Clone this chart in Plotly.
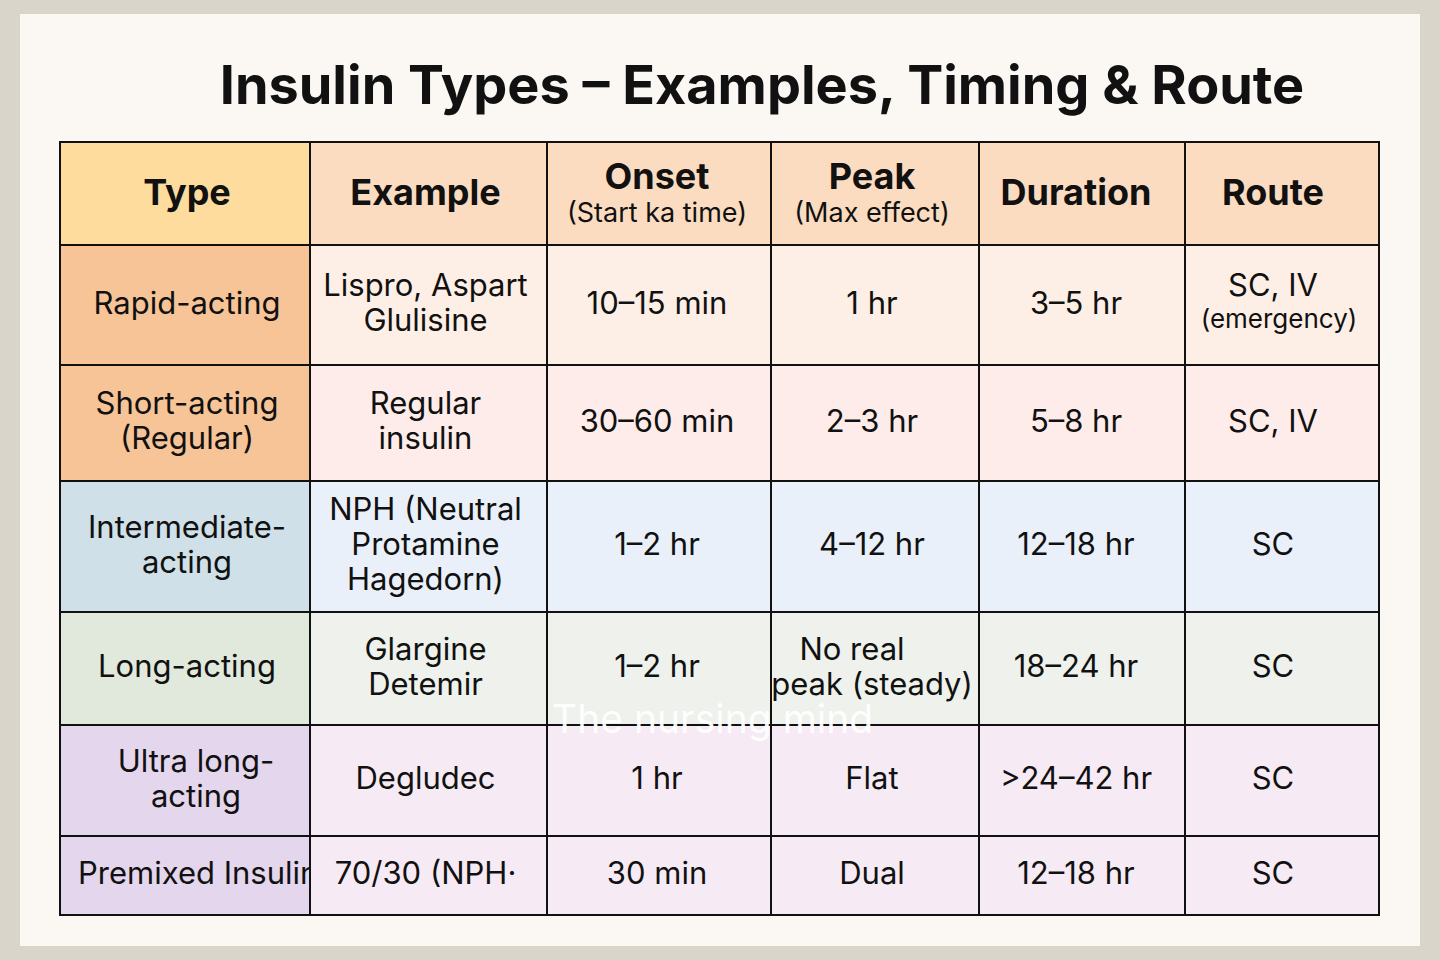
import plotly.graph_objects as go

# ---- table content ----
columns = ["Type", "Example", "Onset", "Peak", "Duration", "Route"]
header_notes = ["", "", "(Start ka time)", "(Max effect)", "", ""]

types = ["Rapid-acting", "Short-acting\n(Regular)", "Intermediate-\nacting",
         "Long-acting", "Ultra long-\nacting", "Premixed Insulin"]
examples = ["Lispro, Aspart\nGlulisine", "Regular\ninsulin",
            "NPH (Neutral\nProtamine\nHagedorn)", "Glargine\nDetemir",
            "Degludec", "70/30 (NPH·"]
onsets = ["10–15 min", "30–60 min", "1–2 hr", "1–2 hr", "1 hr", "30 min"]
peaks = ["1 hr", "2–3 hr", "4–12 hr", "No real\npeak (steady)", "Flat", "Dual"]
durations = ["3–5 hr", "5–8 hr", "12–18 hr", "18–24 hr", ">24–42 hr", "12–18 hr"]
routes = ["SC, IV\n(emergency)", "SC, IV", "SC", "SC", "SC", "SC"]

table_rows = list(zip(types, examples, onsets, peaks, durations, routes))

# ---- layout / style ----
COL_EDGES = [60, 310, 547, 771, 979, 1185, 1379]
ROW_EDGES = [142, 245, 365, 481, 612, 725, 836, 915]
COL_TEXT_SHIFT = [2, -3, -2, -3, -6, -9]
# small hand nudges of single cells / lines, like in the original
CELL_NUDGE = {(5, 0): 9}
LINE_NUDGE = {"No real": -20}
TYPE_FILLS = ["#fddc9d", "#f7c497", "#f7c497", "#cfe0e9", "#e1e9dc", "#e4d6ec", "#e4d6ec"]
BODY_FILLS = ["#fbdcc0", "#fdefe6", "#fdece9", "#e9f0f9", "#eef1ec", "#f6ebf5", "#f6ebf5"]
FONT = "Inter"
INK = "#111111"
LINE_GAP = 35

fig = go.Figure()

# cream panel behind the table
fig.add_shape(type="rect", x0=20, y0=14, x1=1420, y1=946,
              fillcolor="#fbf8f3", line_width=0, layer="below")

# cells
for r in range(len(ROW_EDGES) - 1):
    for c in range(len(COL_EDGES) - 1):
        fig.add_shape(type="rect",
                      x0=COL_EDGES[c], x1=COL_EDGES[c + 1],
                      y0=ROW_EDGES[r], y1=ROW_EDGES[r + 1],
                      fillcolor=TYPE_FILLS[r] if c == 0 else BODY_FILLS[r],
                      line=dict(color=INK, width=2), layer="below")


def split_lines(text, cy, gap=LINE_GAP):
    lines = text.split("\n")
    n = len(lines)
    return [(ln, cy + (i - (n - 1) / 2) * gap) for i, ln in enumerate(lines)]


# header text
head_x, head_y, head_t = [], [], []
note_x, note_y, note_t = [], [], []
for c, (name, note) in enumerate(zip(columns, header_notes)):
    cx = (COL_EDGES[c] + COL_EDGES[c + 1]) / 2 + COL_TEXT_SHIFT[c]
    cy = (ROW_EDGES[0] + ROW_EDGES[1]) / 2
    if note:
        head_x.append(cx); head_y.append(cy - 14); head_t.append(name)
        note_x.append(cx); note_y.append(cy + 22); note_t.append(note)
    else:
        head_x.append(cx); head_y.append(cy + 2); head_t.append(name)

# body text
body_x, body_y, body_t, body_pos = [], [], [], []
small_x, small_y, small_t = [], [], []
for r, row in enumerate(table_rows, start=1):
    cy = (ROW_EDGES[r] + ROW_EDGES[r + 1]) / 2 + 1
    for c, text in enumerate(row):
        cx = (COL_EDGES[c] + COL_EDGES[c + 1]) / 2 + COL_TEXT_SHIFT[c] + CELL_NUDGE.get((r, c), 0)
        for ln, y in split_lines(text, cy):
            if ln.startswith("(emergency"):
                small_x.append(cx + 6); small_y.append(y - 2); small_t.append(ln)
                continue
            if c == 0 and ln == "Premixed Insulin":
                # overflowing label, anchored on the left like the original
                body_x.append(COL_EDGES[0] + 18); body_pos.append("middle right")
            else:
                body_x.append(cx + LINE_NUDGE.get(ln, 0)); body_pos.append("middle center")
            body_y.append(y); body_t.append(ln)

fig.add_trace(go.Scatter(x=head_x, y=head_y, text=head_t, mode="text",
                         textfont=dict(family=FONT, size=36, color=INK, weight="bold")))
fig.add_trace(go.Scatter(x=note_x, y=note_y, text=note_t, mode="text",
                         textfont=dict(family=FONT, size=27, color=INK)))
fig.add_trace(go.Scatter(x=body_x, y=body_y, text=body_t, mode="text",
                         textposition=body_pos,
                         textfont=dict(family=FONT, size=31, color=INK)))
fig.add_trace(go.Scatter(x=small_x, y=small_y, text=small_t, mode="text",
                         textfont=dict(family=FONT, size=26, color=INK)))
fig.update_traces(hoverinfo="skip", showlegend=False, cliponaxis=False)

# clip the overflowing "Premixed Insulin" at the column border
last = len(ROW_EDGES) - 2
fig.add_shape(type="rect", x0=COL_EDGES[1] + 1, x1=COL_EDGES[1] + 20,
              y0=ROW_EDGES[last] + 1, y1=ROW_EDGES[last + 1] - 1,
              fillcolor=BODY_FILLS[last], line_width=0, layer="above")
fig.add_shape(type="line", x0=COL_EDGES[1], x1=COL_EDGES[1],
              y0=ROW_EDGES[last], y1=ROW_EDGES[last + 1],
              line=dict(color=INK, width=2), layer="above")

# watermark
fig.add_annotation(x=712, y=718, text="The nursing mind", showarrow=False,
                   font=dict(family=FONT, size=39, color="white"), opacity=0.95)

fig.update_layout(
    width=1440, height=960,
    margin=dict(l=0, r=0, t=0, b=0),
    paper_bgcolor="#dad5ca", plot_bgcolor="rgba(0,0,0,0)",
    title=dict(text="<b>Insulin Types – Examples, Timing & Route</b>",
               font=dict(family=FONT, size=54, color=INK),
               x=762 / 1440, xanchor="center",
               y=1 - 85 / 960, yanchor="middle", yref="container"),
    xaxis=dict(range=[0, 1440], visible=False, fixedrange=True),
    yaxis=dict(range=[960, 0], visible=False, fixedrange=True),
)

# the page's default body margin would shift the figure by 8px
fig.write_html("out.html", config={"displayModeBar": False},
               post_script="document.body.style.margin = '0';")
